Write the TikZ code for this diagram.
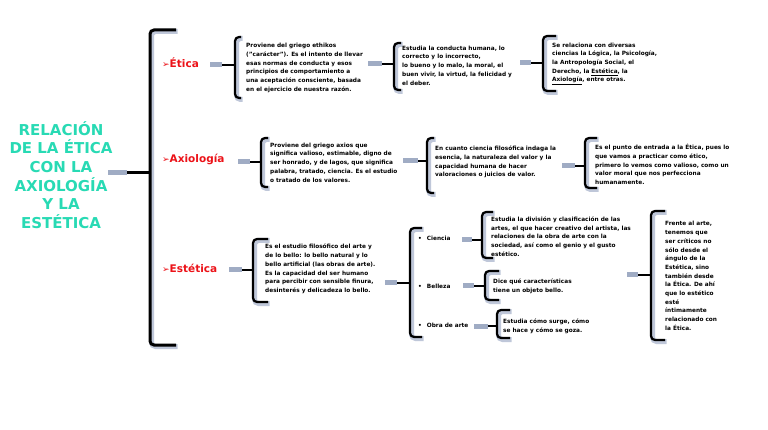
\documentclass[tikz,border=0pt]{standalone}
\usepackage{fontspec}
\setmainfont{DejaVu Sans}
\usepackage{xcolor}
\usepackage{tikz}
\definecolor{titleteal}{RGB}{40,218,180}
\definecolor{labelred}{RGB}{236,18,24}
\definecolor{stubgrey}{RGB}{160,172,196}
\definecolor{shadowblue}{RGB}{176,186,208}
\usetikzlibrary{positioning}

% #1 options, #2 name, #3 stub start, #4 tip start, #5 bar, #6 top, #7 mid, #8 bottom, #9 arm end
\newcommand{\mapbrace}[9]{%
  \coordinate (#2-in) at (#3,#7);
  \coordinate (#2) at (#5,#7);
  \draw[stub] (#2-in) -- (#4,#7);
  \draw[braceshadow, shift={(1.5,1.5)}] (#9,#6) -- (#5,#6) -- (#5,#8) -- (#9,#8);
  \draw[brace, #1] (#9,#6) -- (#5,#6) -- (#5,#8) -- (#9,#8);
  \draw[brace, #1] (#4,#7) -- (#2);
}

\begin{document}
\begin{tikzpicture}[
    x=1pt, y=-1pt,
    txt/.style={font=\bfseries\fontsize{5.8}{8.7}\selectfont, align=left, anchor=west, inner sep=0pt},
    topic/.style={font=\bfseries\fontsize{10.5}{12}\selectfont, text=labelred, anchor=west, inner sep=0pt},
    headline/.style={font=\bfseries\fontsize{15}{18.7}\selectfont, text=titleteal, align=center, inner sep=0pt},
    brace/.style={draw=black, line width=2.2pt, rounded corners=4pt},
    braceshadow/.style={draw=shadowblue, line width=5pt, rounded corners=4pt, opacity=.8},
    stub/.style={draw=stubgrey, line width=5pt}
]
    \fill[white] (0,0) rectangle (768,430);

    % title and main brace
    \node[headline] (title) at (61,175) {RELACIÓN\\DE LA ÉTICA\\CON LA\\AXIOLOGÍA\\Y LA\\ESTÉTICA};
    \mapbrace{line width=3pt}{main}{108}{127}{150}{30}{173}{345}{176}

    % topics
    \node[topic] (etica) at (162,63) {{\fontsize{9}{9}\selectfont ➢}Ética};
    \node[topic] (axiologia) at (162,159) {{\fontsize{9}{9}\selectfont ➢}Axiología};
    \node[topic] (estetica) at (162,268) {{\fontsize{9}{9}\selectfont ➢}Estética};

    % Etica
    \mapbrace{}{eticaA}{210}{222}{235}{37}{65}{98}{241}
    \node[txt] (eticaA-t) at (246,68) {Proviene del griego ethikos\\("carácter"). Es el intento de llevar\\esas normas de conducta y esos\\principios de comportamiento a\\una aceptación consciente, basada\\en el ejercicio de nuestra razón.};
    \mapbrace{}{eticaB}{368}{382}{394}{43}{64}{90}{401}
    \node[txt] (eticaB-t) at (402,65.5) {Estudia la conducta humana, lo\\correcto y lo incorrecto,\\lo bueno y lo malo, la moral, el\\buen vivir, la virtud, la felicidad y\\el deber.};
    \mapbrace{}{eticaC}{520}{531}{543}{36}{63}{91}{556}
    \node[txt] (eticaC-t) at (552,64) {Se relaciona con diversas\\ciencias la Lógica, la Psicología,\\la Antropología Social, el\\Derecho, la \underline{Estética}, la\\\underline{Axiología}, entre otras.};

    % Axiologia
    \mapbrace{}{axioA}{238}{250}{261}{138}{162}{187}{268}
    \node[txt] (axioA-t) at (270,162.5) {Proviene del griego axios que\\significa valioso, estimable, digno de\\ser honrado, y de lagos, que significa\\palabra, tratado, ciencia. Es el estudio\\o tratado de los valores.};
    \mapbrace{}{axioB}{403}{418}{427}{138}{161}{193}{434}
    \node[txt] (axioB-t) at (435,162) {En cuanto ciencia filosófica indaga la\\esencia, la naturaleza del valor y la\\capacidad humana de hacer\\valoraciones o juicios de valor.};
    \mapbrace{}{axioC}{562}{575}{585}{138}{166}{188}{597}
    \node[txt] (axioC-t) at (595,164.5) {Es el punto de entrada a la Ética, pues lo\\que vamos a practicar como ético,\\primero lo vemos como valioso, como un\\valor moral que nos perfecciona\\humanamente.};

    % Estetica
    \mapbrace{}{esteA}{229}{242}{253}{239}{270}{302}{268}
    \node[txt] (esteA-t) at (265,269) {Es el estudio filosófico del arte y\\de lo bello: lo bello natural y lo\\bello artificial (las obras de arte).\\Es la capacidad del ser humano\\para percibir con sensible finura,\\desinterés y delicadeza lo bello.};
    \mapbrace{}{esteB}{385}{397}{410}{228}{283}{337}{422}
    \node[txt] (ciencia) at (418,238) {•\hspace{5pt}Ciencia};
    \node[txt] (belleza) at (418,286) {•\hspace{5pt}Belleza};
    \node[txt] (obra) at (418,325) {•\hspace{5pt}Obra de arte};

    \mapbrace{}{cienciaB}{462}{472}{482}{212}{240}{258}{493}
    \node[txt] (ciencia-t) at (491,236.5) {Estudia la división y clasificación de las\\artes, el que hacer creativo del artista, las\\relaciones de la obra de arte con la\\sociedad, así como el genio y el gusto\\estético.};
    \mapbrace{}{bellezaB}{463}{474}{485}{271}{286}{300}{499}
    \node[txt] (belleza-t) at (493,286) {Dice qué características\\tiene un objeto bello.};
    \mapbrace{}{obraB}{474}{488}{497}{310}{326}{338}{510}
    \node[txt] (obra-t) at (503,326) {Estudia cómo surge, cómo\\se hace y cómo se goza.};

    \mapbrace{}{final}{627}{638}{651}{211}{275}{340}{665}
    \node[txt] (final-t) at (665,276) {Frente al arte,\\tenemos que\\ser críticos no\\sólo desde el\\ángulo de la\\Estética, sino\\también desde\\la Ética. De ahí\\que lo estético\\esté\\íntimamente\\relacionado con\\la Ética.};
\end{tikzpicture}
\end{document}
